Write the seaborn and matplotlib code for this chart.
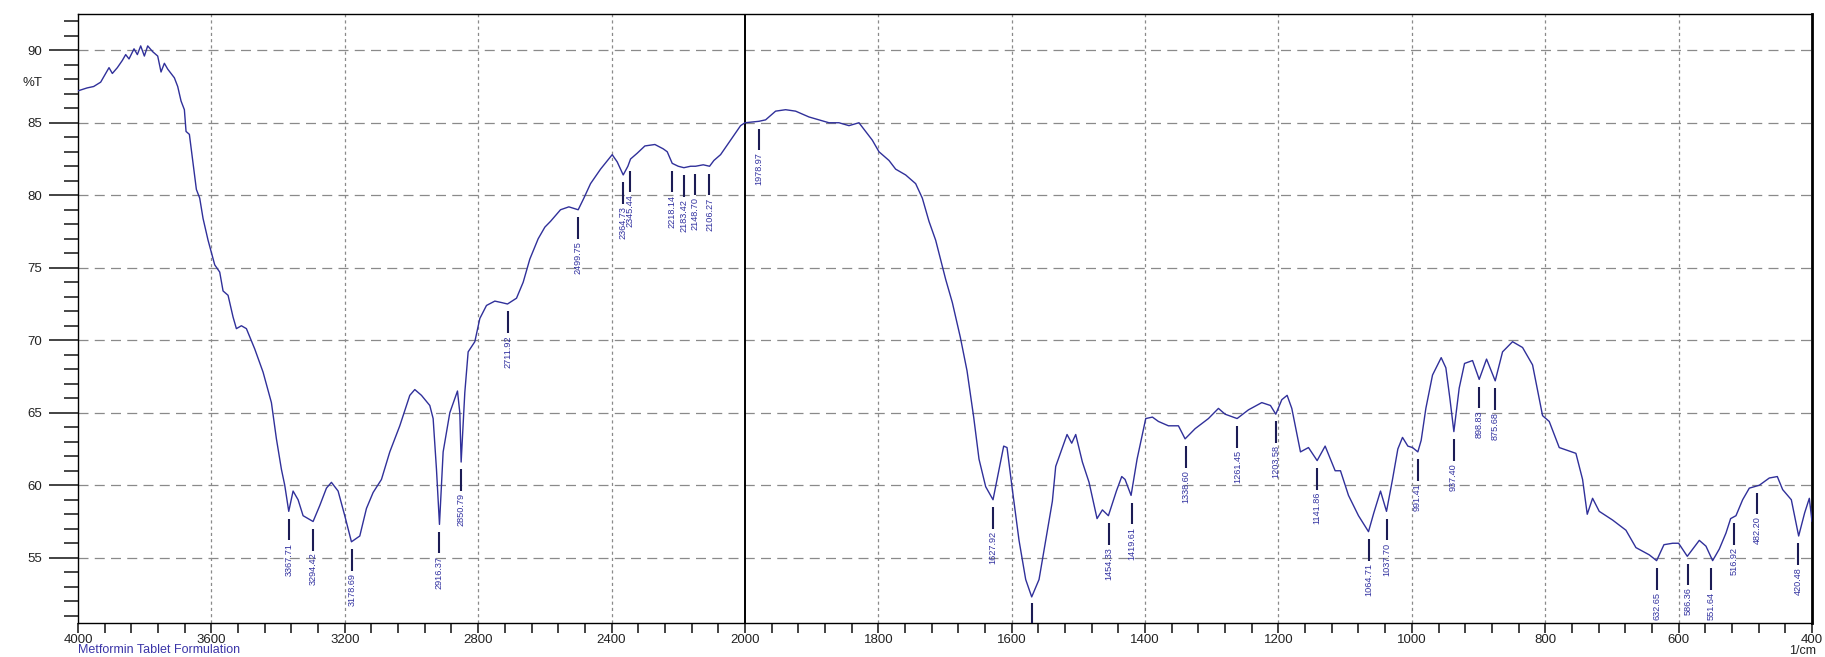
import numpy as np
import pandas as pd
import matplotlib
matplotlib.use("Agg")
import matplotlib.pyplot as plt
import seaborn as sns

# -----------------------------
# Spectrum (wavenumber 1/cm, %T)
# -----------------------------
wavenumber = [
    4000, 3973, 3953, 3932, 3917, 3907, 3897, 3882, 3867, 3857, 3847, 3832, 3822, 3812, 3801,
    3791, 3776, 3761, 3751, 3741, 3731, 3721, 3711, 3701, 3691, 3681, 3676, 3666, 3655, 3645,
    3635, 3625, 3610, 3590, 3575, 3565, 3550, 3535, 3525, 3510, 3495, 3470, 3445, 3420, 3405,
    3390, 3380, 3368, 3355, 3340, 3325, 3295, 3275, 3255, 3240, 3220, 3200, 3180, 3155, 3135,
    3115, 3090, 3065, 3035, 3005, 2990, 2970, 2945, 2935, 2925, 2916, 2905, 2885, 2862, 2855,
    2851, 2840, 2830, 2810, 2795, 2775, 2750, 2730, 2712, 2685, 2665, 2645, 2620, 2600, 2583,
    2553, 2528, 2500, 2483, 2463, 2433, 2398, 2383, 2365, 2351, 2343, 2323, 2300, 2270, 2245,
    2233, 2218, 2200, 2183, 2163, 2148, 2125, 2106, 2093, 2073, 2043, 2013, 2000, 1979, 1969,
    1954, 1939, 1924, 1904, 1874, 1859, 1844, 1829, 1819, 1809, 1799, 1784, 1774, 1759, 1744,
    1734, 1724, 1714, 1699, 1689, 1677, 1667, 1657, 1649, 1639, 1628, 1622, 1612, 1607, 1599,
    1589, 1579, 1570, 1559, 1549, 1539, 1534, 1524, 1517, 1510, 1504, 1494, 1484, 1472, 1464,
    1455, 1443, 1435, 1430, 1421, 1412, 1399, 1389, 1380, 1365, 1350, 1340, 1325, 1305, 1290,
    1280, 1262, 1245, 1225, 1212, 1204, 1195, 1187, 1180, 1167, 1155, 1142, 1130, 1115, 1107,
    1095, 1080, 1065, 1057, 1047, 1038, 1029, 1021, 1014, 1006, 999, 991, 986, 979, 969,
    956, 949, 943, 937, 929, 921, 909, 899, 888, 875, 864, 849, 834, 819, 804,
    794, 779, 754, 744, 737, 729, 719, 699, 679, 664, 644, 633, 622, 609, 600,
    587, 569, 559, 549, 539, 529, 522, 514, 504, 494, 479, 464, 452, 444, 431,
    420, 411, 404, 400,
]
transmittance = [
    87.2, 87.4, 87.5, 87.8, 88.4, 88.8, 88.4, 88.8, 89.3, 89.7, 89.4, 90.1, 89.7, 90.3, 89.6,
    90.3, 89.9, 89.6, 88.5, 89.1, 88.7, 88.4, 88.1, 87.5, 86.5, 85.9, 84.4, 84.2, 82.2, 80.4,
    79.8, 78.4, 76.9, 75.2, 74.7, 73.4, 73.1, 71.6, 70.8, 71.0, 70.8, 69.4, 67.8, 65.7, 63.2,
    61.1, 60.0, 58.2, 59.6, 59.0, 57.9, 57.5, 58.6, 59.8, 60.2, 59.6, 57.9, 56.1, 56.5, 58.4,
    59.5, 60.4, 62.3, 64.1, 66.2, 66.6, 66.2, 65.5, 64.6, 61.1, 57.3, 62.3, 65.0, 66.5, 65.0,
    61.6, 66.4, 69.2, 69.9, 71.5, 72.4, 72.7, 72.6, 72.5, 72.9, 74.0, 75.6, 77.0, 77.8, 78.2,
    79.0, 79.2, 79.0, 79.8, 80.8, 81.8, 82.8, 82.3, 81.4, 82.0, 82.5, 82.9, 83.4, 83.5, 83.2,
    83.0, 82.2, 82.0, 81.9, 82.0, 82.0, 82.1, 82.0, 82.4, 82.8, 83.8, 84.8, 85.0, 85.1, 85.2,
    85.8, 85.9, 85.8, 85.4, 85.0, 85.0, 84.8, 85.0, 84.4, 83.8, 83.0, 82.4, 81.8, 81.4, 80.8,
    79.8, 78.2, 76.9, 74.2, 72.6, 70.2, 67.9, 64.7, 61.8, 59.9, 59.0, 60.4, 62.7, 62.6, 59.7,
    56.2, 53.5, 52.3, 53.5, 56.2, 58.9, 61.3, 62.6, 63.5, 62.9, 63.5, 61.6, 60.2, 57.7, 58.3,
    57.9, 59.6, 60.6, 60.4, 59.3, 61.8, 64.6, 64.7, 64.4, 64.1, 64.1, 63.2, 63.9, 64.6, 65.3,
    64.9, 64.6, 65.2, 65.7, 65.5, 64.9, 65.9, 66.2, 65.3, 62.3, 62.6, 61.7, 62.7, 61.0, 61.0,
    59.3, 57.9, 56.8, 58.1, 59.6, 58.2, 60.4, 62.5, 63.3, 62.7, 62.6, 62.3, 63.1, 65.3, 67.6,
    68.8, 68.1, 66.0, 63.7, 66.7, 68.4, 68.6, 67.3, 68.7, 67.2, 69.2, 69.9, 69.5, 68.3, 64.8,
    64.4, 62.6, 62.2, 60.4, 58.0, 59.1, 58.2, 57.6, 56.9, 55.7, 55.2, 54.8, 55.9, 56.0, 56.0,
    55.1, 56.2, 55.8, 54.8, 55.6, 56.7, 57.7, 57.9, 59.0, 59.8, 60.0, 60.5, 60.6, 59.7, 59.0,
    56.5, 58.1, 59.1, 57.5,
]

# Peak picks (position, %T at the peak, printed label)
peak_pos = [3367.71, 3294.42, 3178.69, 2916.37, 2850.79, 2711.92, 2499.75, 2364.73, 2345.44,
            2218.14, 2183.42, 2148.70, 2106.27, 1978.97, 1627.92, 1454.33, 1419.61, 1338.60,
            1261.45, 1203.58, 1141.86, 1064.71, 1037.70, 991.41, 937.40, 898.83, 875.68,
            632.65, 586.36, 551.64, 516.92, 482.20, 420.48]
peak_t = [58.2, 57.5, 56.1, 57.3, 61.6, 72.5, 79.0, 81.4, 82.2,
          82.2, 81.9, 82.0, 82.0, 85.1, 59.0, 57.9, 59.3, 63.2,
          64.6, 64.9, 61.7, 56.8, 58.2, 62.3, 63.7, 67.3, 67.2,
          54.8, 55.1, 54.8, 57.9, 60.0, 56.5]
peak_labels = ["%.2f" % p for p in peak_pos]

major_ticks = [4000, 3600, 3200, 2800, 2400, 2000, 1800, 1600, 1400, 1200, 1000, 800, 600, 400]
y_ticks = [55, 60, 65, 70, 75, 80, 85, 90]

df = pd.DataFrame({"wavenumber": wavenumber, "T": transmittance})

# -----------------------------
# Plot
# -----------------------------
sns.set_style("white")
plt.rcParams["font.family"] = ["Liberation Sans", "DejaVu Sans"]

W, H = 1825, 657
fig = plt.figure(figsize=(W / 100, H / 100), dpi=100)
ax = fig.add_axes([78 / W, 1 - 623 / H, (1812 - 78) / W, (623 - 14) / H])


# the instrument doubles the scale below 2000 1/cm
def fwd(x):
    x = np.asarray(x, dtype=float)
    return np.where(x >= 2000, x, 2 * x - 2000)


def inv(u):
    u = np.asarray(u, dtype=float)
    return np.where(u >= 2000, u, (u + 2000) / 2)


ax.set_xscale("function", functions=(fwd, inv))

sns.lineplot(data=df, x="wavenumber", y="T", ax=ax, sort=False, estimator=None,
             color="#30309a", linewidth=1.0, zorder=5)

ax.set_xlim(4000, 400)
ax.set_ylim(50.5, 92.5)

ax.set_xticks(major_ticks)
ax.set_xticklabels([str(t) for t in major_ticks])
minor_x = list(range(3920, 2000, -80)) + list(range(1960, 400, -40))
ax.set_xticks(minor_x, minor=True)
ax.set_yticks(y_ticks)
ax.set_yticks(range(51, 93), minor=True)

ax.set_xlabel("")
ax.set_ylabel("")

ax.tick_params(axis="x", which="both", direction="out", length=7, width=1.2,
               labelsize=9.5, pad=1, colors="#222222")
ax.tick_params(axis="y", which="major", direction="out", length=21, width=1.2,
               labelsize=9.5, pad=5, colors="#222222")
ax.tick_params(axis="y", which="minor", direction="out", length=10, width=1.2)
ax.tick_params(axis="y", which="both", left=True)
ax.tick_params(axis="x", which="both", bottom=True)

for side in ["left", "right", "top", "bottom"]:
    ax.spines[side].set_color("black")
    ax.spines[side].set_linewidth(1.0)
ax.spines["right"].set_linewidth(2.0)

# grid: dashed horizontals, dotted verticals, solid break at 2000
for y in y_ticks:
    ax.axhline(y, color="#8a8a8a", linewidth=0.9, linestyle=(0, (8, 5)), zorder=1)
for x in major_ticks[1:-1]:
    if x == 2000:
        ax.axvline(x, color="black", linewidth=1.4, zorder=2)
    else:
        ax.axvline(x, color="#8a8a8a", linewidth=0.9, linestyle=(0, (2.5, 2.5)), zorder=1)

# peak markers and labels
ax.vlines(peak_pos, [t - 0.5 for t in peak_t], [t - 2.0 for t in peak_t],
          color="#1c1c55", linewidth=1.5, zorder=6)
for p, t, lab in zip(peak_pos, peak_t, peak_labels):
    ax.text(p, t - 2.15, lab, rotation=90, ha="center", va="top", fontsize=6.6,
            color="#3232a0", family=["Liberation Sans Narrow", "Liberation Sans"], zorder=6)
# deepest band: marker runs into the axis, its label is cut off
ax.vlines([1570.0], 50.5, 51.9, color="#1c1c55", linewidth=1.5, zorder=6)

fig.text(42 / W, 1 - 83 / H, "%T", ha="right", va="center", fontsize=9.5, color="#222222")
fig.text(78 / W, 1 - 650 / H, "Metformin Tablet Formulation", ha="left", va="center",
         fontsize=9, color="#3b35a8")
fig.text(1816 / W, 1 - 651 / H, "1/cm", ha="right", va="center", fontsize=9, color="#222222")

plt.savefig("out.png", dpi=100)
plt.close()
